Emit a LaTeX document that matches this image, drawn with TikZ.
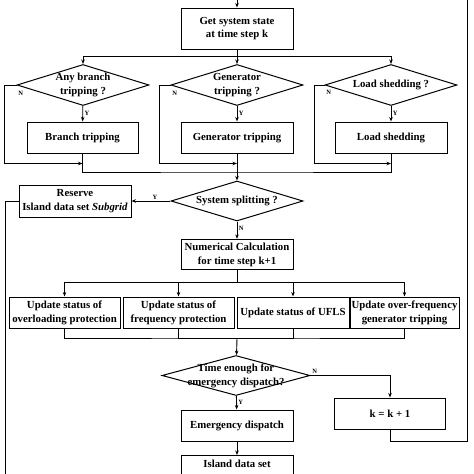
\documentclass[tikz,border=0pt]{standalone}
\usepackage{fontspec}
\setmainfont{Liberation Serif}
\usetikzlibrary{arrows.meta, positioning, shapes.geometric}

\begin{document}
\begin{tikzpicture}[x=1pt, y=-1pt,
        box/.style={rectangle, draw, line width=1pt, minimum width=112pt, minimum height=31pt, inner xsep=0.5pt, align=center, font=\fontsize{10.8}{13.8}\selectfont\bfseries},
        test/.style={diamond, draw, line width=1pt, inner sep=-30pt, minimum width=132pt, minimum height=41pt, align=center, font=\fontsize{10.8}{13.8}\selectfont\bfseries},
        arrow/.style={-{Stealth[length=4.5pt, width=3.5pt]}, line width=0.9pt},
        line/.style={line width=0.9pt},
        yn/.style={font=\fontsize{6.5}{7}\selectfont\bfseries, inner sep=1.5pt}
        ]
        \useasboundingbox (0,0) rectangle (474,474);
        \clip (0,0) rectangle (474,474);

        % state and the three tests
        \node[box, minimum height=41pt] (get) at (237,28.5) {Get system state\\at time step k};
        \node[test] (d1) at (83,85) {Any branch\\tripping ?};
        \node[test] (d2) at (237,85) {Generator\\tripping ?};
        \node[test] (d3) at (391,85) {Load shedding ?};
        \node[box, minimum width=111pt] (br) at (82.5,137.5) {Branch tripping};
        \node[box] (gen) at (237,137.5) {Generator tripping};
        \node[box] (load) at (391,137.5) {Load shedding};

        % splitting
        \node[test, minimum height=40pt] (d4) at (237,201) {System splitting ?};
        \node[box, minimum height=32pt] (res) at (75,201) {Reserve\\Island data set \textit{Subgrid}};
        \node[box, minimum height=30pt] (num) at (237,254.5) {Numerical Calculation\\for time step k+1};

        % protections
        \node[box, minimum width=111pt] (u1) at (64.5,312.5) {Update status of\\overloading protection};
        \node[box, minimum width=111pt] (u2) at (178.5,312.5) {Update status of\\frequency protection};
        \node[box] (u3) at (293,312.5) {Update status of UFLS};
        \node[box, minimum width=109pt] (u4) at (404.5,312.5) {Update over-frequency\\generator tripping};

        % dispatch
        \node[test, minimum width=148pt, minimum height=40pt] (d5) at (236,375.5) {Time enough for\\emergency dispatch?};
        \node[box, minimum width=111pt] (kinc) at (390,413.5) {k = k + 1};
        \node[box] (emerg) at (237,425.5) {Emergency dispatch};
        \node[box, anchor=north, minimum height=0pt, inner ysep=4pt, text height=7.5pt, text depth=17pt] (isl) at (237,455) {Island data set};

        \coordinate (top) at (237,0);
        \coordinate (n1) at ([yshift=-10pt]br.south);
        \coordinate (n2) at ([yshift=-10pt]gen.south);
        \coordinate (n3) at ([yshift=-10pt]load.south);
        \coordinate (m1) at (237,172);
        \coordinate (s2) at (237,282);
        \coordinate (m2) at (237,338);
        \coordinate (lb) at (5,484);
        \coordinate (loopr) at (467,441);
        \coordinate (looptop) at (467,-10);

        \draw[arrow] (top) -- (get);
        \draw[arrow] (get.south) -- ++(0,7) -| (d1.north);
        \draw[arrow] (get.south) -- ++(0,7) -| (d3.north);
        \draw[arrow] (get) -- (d2);

        \draw[arrow] (d1) -- node[yn, right, pos=0.45] {Y} (br);
        \draw[arrow] (d2) -- node[yn, right, pos=0.45] {Y} (gen);
        \draw[arrow] (d3) -- node[yn, right, pos=0.45] {Y} (load);
        \draw[arrow] (d1.west) node[yn, below right, yshift=-4pt] {N} -- ++(-12,0) |- (n1);
        \draw[arrow] (d2.west) node[yn, below right, yshift=-4pt] {N} -- ++(-11,0) |- (n2);
        \draw[arrow] (d3.west) node[yn, below right, yshift=-3pt] {N} -- ++(-10,0) |- (n3);

        \draw[line] (br.south) |- (m1) -| (load.south);
        \draw[line] (gen) -- (m1);
        \draw[arrow] (m1) -- (d4);

        \draw[arrow] (d4) -- node[yn, above, pos=0.4] {Y} (res);
        \draw[arrow] (d4) -- node[yn, right, pos=0.37] {N} (num);
        \draw[line] (res.west) -| (lb);

        \draw[line] (num) -- (s2);
        \draw[arrow] (s2) -| (u1.north);
        \draw[arrow] (s2) -| (u2.north);
        \draw[arrow] (s2) -| (u3.north);
        \draw[arrow] (s2) -| (u4.north);
        \draw[line] (u1.south) |- (m2) -| (u4.south);
        \draw[line] (u2.south) |- (m2);
        \draw[line] (u3.south) |- (m2);
        \draw[arrow] (m2) -- (d5);

        \draw[arrow] (d5.east) node[yn, above right] {N} -| (kinc.north);
        \draw[arrow] (d5) -- node[yn, right, pos=0.45] {Y} (emerg);
        \draw[arrow] (emerg) -- (isl);
        \draw[line] (kinc.south) |- (loopr) -- (looptop);
        \end{tikzpicture}
\end{document}
